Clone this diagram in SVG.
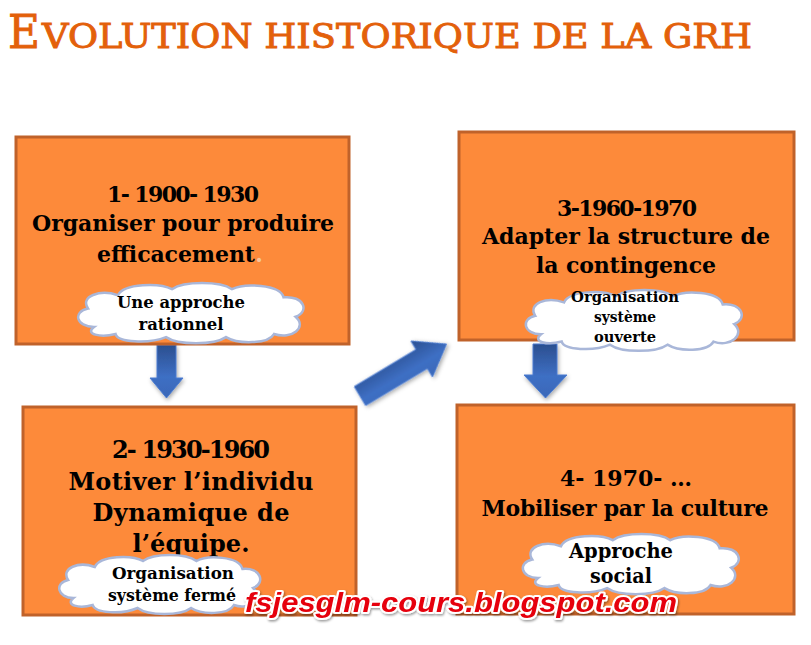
<svg xmlns="http://www.w3.org/2000/svg" xmlns:xlink="http://www.w3.org/1999/xlink" width="811" height="645" viewBox="0 0 811 645">
<style>
.box{fill:#fd8a3a;stroke:#c0622a;stroke-width:3}
.bt{font-family:"DejaVu Serif","Liberation Serif",serif;font-weight:bold;fill:#000;text-anchor:middle}
.ct{font-family:"DejaVu Serif","Liberation Serif",serif;font-weight:bold;fill:#000;text-anchor:middle}
.cloud{fill:#fff;stroke:#a9b7d9;stroke-width:2.5}
.title{font-family:"DejaVu Serif","Liberation Serif",serif;fill:#e3600a;stroke:#e3600a;stroke-width:0.9}
.arrow{fill:url(#ag);stroke:#4a7bd0;stroke-width:1;filter:url(#sh)}
</style>
<defs>
<linearGradient id="ag" x1="0" y1="0" x2="0" y2="1">
<stop offset="0" stop-color="#2b4f8f"/>
<stop offset="0.6" stop-color="#3e6fc4"/>
<stop offset="1" stop-color="#3a68b8"/>
</linearGradient>
<filter id="sh" x="-30%" y="-30%" width="160%" height="160%">
<feDropShadow dx="1" dy="2" stdDeviation="2" flood-color="#000" flood-opacity="0.35"/>
</filter>
<filter id="wsh" x="-10%" y="-30%" width="120%" height="160%">
<feDropShadow dx="1" dy="1.5" stdDeviation="1" flood-color="#000" flood-opacity="0.4"/>
</filter>
<path id="cl" d="M20,45 C5,45 2,30 15,27 C8,15 25,8 40,14 C45,2 75,2 85,8 C95,0 125,0 135,8 C145,2 175,3 178,16 C195,14 200,30 188,35 C198,45 185,58 170,52 C165,62 140,62 130,55 C120,63 90,63 80,55 C65,62 40,60 38,52 C25,56 12,52 20,45 Z" vector-effect="non-scaling-stroke"/>
</defs>
<rect width="811" height="645" fill="#fff"/>
<g id="title">
<text class="title" x="8" y="48" font-size="46" textLength="32" lengthAdjust="spacingAndGlyphs">E</text>
<text class="title" x="42" y="48" font-size="33" textLength="710" lengthAdjust="spacingAndGlyphs">VOLUTION HISTORIQUE DE LA GRH</text>
</g>
<g id="connectors">
<polygon class="arrow" points="157,345 176,345 176,378 183,378 166.5,398 150,378 157,378"/>
<polygon class="arrow" points="533,344 557,344 557,375 567,375 545.5,398 524,375 533,375"/>
<g transform="translate(360,396) rotate(-31)">
<polygon class="arrow" points="0,-11 72,-11 72,-21 101,0 72,21 72,11 0,11"/>
</g>
</g>
<g id="node1">
<rect class="box" x="16" y="137" width="333" height="207"/>
<text class="bt" x="183" y="202" font-size="22" textLength="152">1- 1900- 1930</text>
<text class="bt" x="183" y="231" font-size="22" textLength="302">Organiser pour produire</text>
<text class="bt" x="176" y="262" font-size="22" textLength="158">efficacement</text>
<text class="bt" x="259" y="262" font-size="22" style="fill:#f7c59a">.</text>
<g class="cloud"><use xlink:href="#cl" transform="translate(70,281) scale(1.2,1.02)"/></g>
<text class="ct" x="181" y="308" font-size="16" textLength="128" lengthAdjust="spacingAndGlyphs">Une approche</text>
<text class="ct" x="181" y="330" font-size="16" textLength="85" lengthAdjust="spacingAndGlyphs">rationnel</text>
</g>
<g id="node2">
<rect class="box" x="23" y="407" width="333" height="208"/>
<text class="bt" x="191" y="458" font-size="24" textLength="158">2- 1930-1960</text>
<text class="bt" x="191" y="490" font-size="24" textLength="245">Motiver l’individu</text>
<text class="bt" x="191" y="521" font-size="24" textLength="197">Dynamique de</text>
<text class="bt" x="191" y="552" font-size="24" textLength="117">l’équipe.</text>
<g class="cloud"><use xlink:href="#cl" transform="translate(52,553) scale(1.07,1.0)"/></g>
<text class="ct" x="173" y="579" font-size="16" textLength="122" lengthAdjust="spacingAndGlyphs">Organisation</text>
<text class="ct" x="172" y="601" font-size="16" textLength="128" lengthAdjust="spacingAndGlyphs">système fermé</text>
</g>
<g id="node3">
<rect class="box" x="459" y="132" width="335" height="208"/>
<text class="bt" x="627" y="216" font-size="22" textLength="140">3-1960-1970</text>
<text class="bt" x="626" y="244" font-size="22" textLength="288">Adapter la structure de</text>
<text class="bt" x="626" y="273" font-size="22" textLength="180">la contingence</text>
<g class="cloud"><use xlink:href="#cl" transform="translate(518,288) scale(1.15,1.03)"/></g>
<text class="ct" x="625" y="302" font-size="14.5" textLength="108" lengthAdjust="spacingAndGlyphs">Organisation</text>
<text class="ct" x="625" y="322" font-size="14.5" textLength="62" lengthAdjust="spacingAndGlyphs">système</text>
<text class="ct" x="625" y="342" font-size="14.5" textLength="62" lengthAdjust="spacingAndGlyphs">ouverte</text>
</g>
<g id="node4">
<rect class="box" x="457" y="405" width="337" height="209"/>
<text class="bt" x="626" y="486" font-size="22">4- 1970- …</text>
<text class="bt" x="625" y="516" font-size="22" textLength="287">Mobiliser par la culture</text>
<g class="cloud"><use xlink:href="#cl" transform="translate(515,532) scale(1.15,1.02)"/></g>
<text class="ct" x="621" y="558" font-size="20" textLength="104" lengthAdjust="spacingAndGlyphs">Approche</text>
<text class="ct" x="621" y="583" font-size="20" textLength="62" lengthAdjust="spacingAndGlyphs">social</text>
</g>
<g id="watermark">
<text x="245" y="612" font-family="'Liberation Sans',Arial,sans-serif" font-weight="bold" font-style="italic" font-size="28" textLength="432" lengthAdjust="spacingAndGlyphs" fill="#e6000c" stroke="#fff" stroke-width="4" stroke-linejoin="round" paint-order="stroke" filter="url(#wsh)">fsjesglm-cours.blogspot.com</text>
</g>
</svg>
